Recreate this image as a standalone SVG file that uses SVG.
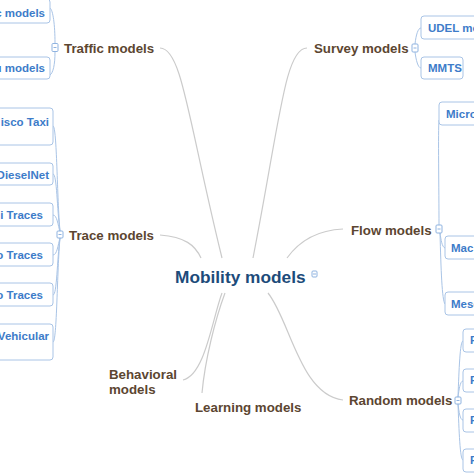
<svg xmlns="http://www.w3.org/2000/svg" width="474" height="474" viewBox="0 0 474 474">
<style>
.bg{fill:#ffffff}
.main{stroke:#cbcbcb;stroke-width:1.2;fill:none}
.sub{stroke:#a9c4e6;stroke-width:1;fill:none}
.box{fill:#ffffff;stroke:#a9c4e6;stroke-width:1}
.icon{fill:#ffffff;stroke:#8fb3e0;stroke-width:1}
.minus{stroke:#8fb3e0;stroke-width:1}
.root{font-family:"Liberation Sans",Arial,sans-serif;font-weight:bold;font-size:17.3px;fill:#1d4b7a}
.topic{font-family:"Liberation Sans",Arial,sans-serif;font-weight:bold;font-size:13.3px;fill:#5c4631}
.leaf{font-family:"Liberation Sans",Arial,sans-serif;font-weight:bold;font-size:11.5px;fill:#3d7cc9}
</style>
<rect class="bg" x="0" y="0" width="474" height="474"/>
<g id="connectors">
  <path class="main" d="M160,48 C182,48 188,120 222,258"/>
  <path class="main" d="M307,48 C285,48 280,120 253,258"/>
  <path class="main" d="M160,235 C185,237 195,245 201,258"/>
  <path class="main" d="M287,258 C300,240 320,230 343,229"/>
  <path class="main" d="M222,293 C212,320 205,375 183,380"/>
  <path class="main" d="M225,293 C215,320 205,360 202,393"/>
  <path class="main" d="M268,293 C290,320 300,395 343,400"/>
  <path class="sub" d="M55,43 C55,25 53,10 50,8"/>
  <path class="sub" d="M55,52 C55,65 53,73 50,75"/>
  <path class="sub" d="M60,231 C57,200 57,126 53,126"/>
  <path class="sub" d="M60,231 C57,210 57,174 53,174"/>
  <path class="sub" d="M60,232 C58,225 57,215 53,215"/>
  <path class="sub" d="M60,238 C58,245 57,255 53,255"/>
  <path class="sub" d="M60,238 C57,260 57,295 53,295"/>
  <path class="sub" d="M60,238 C57,270 57,342 53,342"/>
  <path class="sub" d="M415,44 C416,35 418,28 421,28"/>
  <path class="sub" d="M415,52 C416,60 418,68 421,68"/>
  <path class="sub" d="M439,225 C439,190 438,130 439,120"/>
  <path class="sub" d="M440,233 C441,240 442,247 445,248"/>
  <path class="sub" d="M440,233 C441,270 442,300 445,304"/>
  <path class="sub" d="M458,397 C459,370 460,341 463,341"/>
  <path class="sub" d="M458,397 C459,390 460,381 463,381"/>
  <path class="sub" d="M458,404 C459,412 460,420 463,420"/>
  <path class="sub" d="M458,404 C459,430 460,460 463,460"/>
</g>
<g id="root">
  <text class="root" x="175" y="283">Mobility models</text>
  <rect class="icon" x="312" y="271" width="5" height="6" rx="1"/>
  <line class="minus" x1="313" y1="274" x2="316" y2="274"/>
</g>
<g id="traffic">
  <text class="topic" x="64" y="53">Traffic models</text>
  <rect class="icon" x="52" y="43.5" width="6" height="8" rx="1"/>
  <line class="minus" x1="53.5" y1="47.5" x2="56.5" y2="47.5"/>
</g>
<g id="traffic-1"><rect class="box" x="-60" y="-1" width="110" height="24" rx="3"/><text class="leaf" x="45" y="17" text-anchor="end">c models</text></g>
<g id="traffic-2"><rect class="box" x="-60" y="57" width="110" height="22" rx="3"/><text class="leaf" x="45" y="72" text-anchor="end">u models</text></g>
<g id="survey">
  <text class="topic" x="314" y="53">Survey models</text>
  <rect class="icon" x="412" y="44" width="6" height="8" rx="1"/>
  <line class="minus" x1="413.5" y1="48" x2="416.5" y2="48"/>
</g>
<g id="survey-1"><rect class="box" x="421" y="16" width="80" height="23" rx="3"/><text class="leaf" x="428" y="32">UDEL mo</text></g>
<g id="survey-2"><rect class="box" x="421" y="57" width="42" height="22" rx="3"/><text class="leaf" x="428" y="72">MMTS</text></g>
<g id="trace">
  <text class="topic" x="69" y="240">Trace models</text>
  <rect class="icon" x="57" y="231" width="6" height="7" rx="1"/>
  <line class="minus" x1="58.5" y1="234.5" x2="61.5" y2="234.5"/>
</g>
<g id="trace-1"><rect class="box" x="-60" y="108" width="113" height="37" rx="3"/><text class="leaf" x="49" y="126" text-anchor="end">isco Taxi</text></g>
<g id="trace-2"><rect class="box" x="-60" y="163" width="113" height="22" rx="3"/><text class="leaf" x="49" y="179" text-anchor="end">DieselNet</text></g>
<g id="trace-3"><rect class="box" x="-60" y="203" width="113" height="23" rx="3"/><text class="leaf" x="43" y="219" text-anchor="end">i Traces</text></g>
<g id="trace-4"><rect class="box" x="-60" y="243" width="113" height="23" rx="3"/><text class="leaf" x="43" y="259" text-anchor="end">o Traces</text></g>
<g id="trace-5"><rect class="box" x="-60" y="283" width="113" height="23" rx="3"/><text class="leaf" x="43" y="299" text-anchor="end">o Traces</text></g>
<g id="trace-6"><rect class="box" x="-60" y="324" width="113" height="36" rx="3"/><text class="leaf" x="49" y="340" text-anchor="end">Vehicular</text></g>
<g id="flow">
  <text class="topic" x="351" y="235">Flow models</text>
  <rect class="icon" x="436" y="225" width="6" height="8" rx="1"/>
  <line class="minus" x1="437.5" y1="229" x2="440.5" y2="229"/>
</g>
<g id="flow-1"><rect class="box" x="439" y="102" width="60" height="23" rx="3"/><text class="leaf" x="446" y="118">Micro</text></g>
<g id="flow-2"><rect class="box" x="445" y="236" width="60" height="23" rx="3"/><text class="leaf" x="451" y="252">Mac</text></g>
<g id="flow-3"><rect class="box" x="445" y="292" width="60" height="23" rx="3"/><text class="leaf" x="451" y="308">Meso</text></g>
<g id="behavioral">
  <text class="topic" x="109" y="379">Behavioral</text>
  <text class="topic" x="109" y="394">models</text>
</g>
<g id="learning"><text class="topic" x="195" y="412">Learning models</text></g>
<g id="random">
  <text class="topic" x="349" y="405">Random models</text>
  <rect class="icon" x="455" y="397" width="6" height="7" rx="1"/>
  <line class="minus" x1="456.5" y1="400.5" x2="459.5" y2="400.5"/>
</g>
<g id="random-1"><rect class="box" x="463" y="329" width="40" height="23" rx="3"/><text class="leaf" x="470" y="344">F</text></g>
<g id="random-2"><rect class="box" x="463" y="369" width="40" height="23" rx="3"/><text class="leaf" x="470" y="384">F</text></g>
<g id="random-3"><rect class="box" x="463" y="409" width="40" height="23" rx="3"/><text class="leaf" x="470" y="424">F</text></g>
<g id="random-4"><rect class="box" x="463" y="449" width="40" height="23" rx="3"/><text class="leaf" x="470" y="464">F</text></g>
</svg>
